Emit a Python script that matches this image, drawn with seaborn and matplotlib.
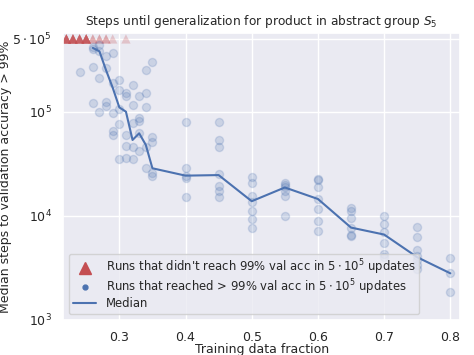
import matplotlib
matplotlib.use("Agg")
import matplotlib.pyplot as plt
from matplotlib.lines import Line2D
import numpy as np
import pandas as pd
import seaborn as sns

# runs that reached > 99% val acc: steps per training fraction
fractions = [0.24, 0.26, 0.27, 0.28, 0.29, 0.30, 0.31, 0.32, 0.33, 0.34, 0.35,
             0.40, 0.45, 0.50, 0.55, 0.60, 0.65, 0.70, 0.75, 0.80]
steps = [
    [2.4e5],
    [4.2e5, 4.0e5, 2.7e5, 1.2e5],
    [4.4e5, 3.8e5, 2.1e5, 9.9e4],
    [3.45e5, 2.6e5, 1.25e5, 1.14e5],
    [3.7e5, 1.9e5, 9.7e4, 6.5e4, 6.0e4],
    [2.0e5, 1.6e5, 1.07e5, 7.6e4, 3.5e4],
    [1.5e5, 1.4e5, 6.0e4, 4.7e4, 3.6e4],
    [1.8e5, 1.16e5, 7.8e4, 4.6e4, 3.5e4],
    [1.4e5, 8.7e4, 8.2e4, 6.2e4, 4.2e4],
    [2.5e5, 1.5e5, 1.12e5, 4.6e4, 2.9e4],
    [3.0e5, 5.75e4, 5.1e4, 2.57e4, 2.43e4],
    [8.0e4, 2.85e4, 2.4e4, 2.33e4, 1.5e4],
    [8.0e4, 5.3e4, 4.6e4, 2.5e4, 1.95e4, 1.74e4, 1.5e4],
    [2.37e4, 2.07e4, 1.55e4, 1.35e4, 1.1e4, 9.4e3, 7.7e3],
    [2.07e4, 1.97e4, 1.87e4, 1.74e4, 1.55e4, 9.9e3],
    [2.28e4, 2.2e4, 1.89e4, 1.44e4, 1.15e4, 9.0e3, 7.2e3],
    [1.2e4, 1.1e4, 9.5e3, 7.7e3, 6.6e3, 6.4e3],
    [1.0e4, 8.4e3, 7.0e3, 5.5e3, 4.3e3, 4.0e3],
    [7.8e3, 6.2e3, 4.7e3, 4.1e3, 3.8e3, 3.4e3, 3.1e3],
    [3.9e3, 2.8e3, 1.86e3],
]

# median line
median_fracs = [0.26, 0.27, 0.28, 0.29, 0.30, 0.31, 0.32, 0.33, 0.34, 0.35,
                0.40, 0.45, 0.50, 0.55, 0.60, 0.65, 0.70, 0.75, 0.80]
median_steps = [4.1e5, 3.8e5, 2.5e5, 1.7e5, 1.1e5, 1.0e5, 5.35e4, 6.2e4, 4.8e4, 2.86e4,
                2.43e4, 2.46e4, 1.38e4, 1.87e4, 1.45e4, 7.7e3, 6.6e3, 4.0e3, 2.8e3]

# runs that didn't reach 99% in 5e5 updates
failed_fracs = [0.22, 0.23, 0.24, 0.25, 0.26, 0.27, 0.28, 0.29, 0.31]
failed_counts = [8, 8, 7, 8, 2, 2, 2, 1, 1]
max_steps = 5e5

sns.set_theme(style="darkgrid")
plt.rcParams["font.family"] = ["DejaVu Sans"]

blue = sns.color_palette("deep")[0]
red = sns.color_palette("deep")[3]

df = pd.DataFrame({
    "frac": [f for f, s in zip(fractions, steps) for _ in s],
    "steps": [v for s in steps for v in s],
})
df_fail = pd.DataFrame({
    "frac": [f for f, c in zip(failed_fracs, failed_counts) for _ in range(c)],
})
df_fail["steps"] = max_steps
df_med = pd.DataFrame({"frac": median_fracs, "steps": median_steps})

fig = plt.figure(figsize=(4.74, 3.55), dpi=100)
ax = fig.add_axes([0.133, 0.099, 0.838, 0.808])

sns.scatterplot(data=df_fail, x="frac", y="steps", marker="^", color=red,
                edgecolor="none", alpha=0.25, s=45, ax=ax, legend=False)
sns.scatterplot(data=df, x="frac", y="steps", color=blue, edgecolor=blue,
                alpha=0.2, s=34, linewidth=1, ax=ax, legend=False)
sns.lineplot(data=df_med, x="frac", y="steps", color=blue, linewidth=1.5,
             ax=ax, legend=False)

ax.set_yscale("log")
ax.set_ylim(1e3, 5.7e5)
ax.set_xlim(0.215, 0.815)
ax.set_yticks([1e3, 1e4, 1e5, 5e5])
ax.set_yticklabels([r"$10^3$", r"$10^4$", r"$10^5$", r"$5\cdot10^5$"])
ax.yaxis.set_minor_locator(matplotlib.ticker.NullLocator())
ax.set_xticks([0.3, 0.4, 0.5, 0.6, 0.7, 0.8])
ax.tick_params(labelsize=9, pad=2)

ax.set_xlabel("Training data fraction", fontsize=9, labelpad=-1)
ax.set_ylabel("Median steps to validation accuracy > 99%", fontsize=9, labelpad=0)
ax.set_title(r"Steps until generalization for product in abstract group $S_5$",
             fontsize=8.7, pad=6)

handles = [
    Line2D([], [], marker="^", color=red, linestyle="none", markersize=8.5),
    Line2D([], [], marker="o", color=blue, linestyle="none", markersize=3.5),
    Line2D([], [], color=blue, linewidth=1.5),
]
labels = [
    r"Runs that didn't reach 99% val acc in $5\cdot10^5$ updates",
    r"Runs that reached > 99% val acc in $5\cdot10^5$ updates",
    "Median",
]
ax.legend(handles, labels, loc="lower left", fontsize=8.4, handlelength=2,
          labelspacing=0.0, borderpad=0.35, handletextpad=0.8)

fig.savefig("out.png", dpi=100)
